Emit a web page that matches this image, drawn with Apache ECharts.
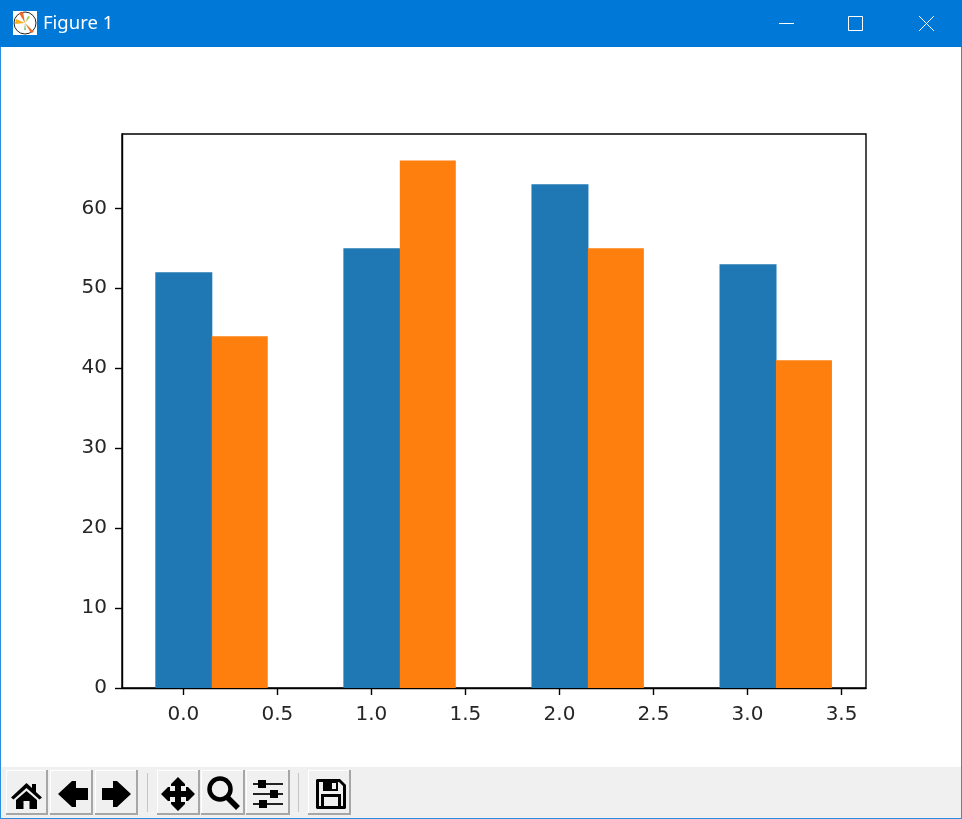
<!DOCTYPE html>
<html>
	<head>
		<title>Figure 1</title>
		<meta charset="utf-8">
		<style>
html, body {
	width: 100%;
	height: 100%;
	margin: 0;
	background: #fff;
}

#box1 {
	width: 962px;
	height: 819px;
}
		</style>
	</head>
	<body>
		<div id="box1"></div>
	</body>
	<script src="https://cdn.jsdelivr.net/npm/echarts@6/dist/echarts.min.js"></script>
	<script type="text/javascript">
var bluePositions = [0, 1, 2, 3];
var blueValues = [52, 55, 63, 53];
var orangePositions = [0.3, 1.3, 2.3, 3.3];
var orangeValues = [44, 66, 55, 41];
var xTicks = [0, 0.5, 1, 1.5, 2, 2.5, 3, 3.5];
var yTicks = [0, 10, 20, 30, 40, 50, 60];
var windowTitle = 'Figure 1';

var myChart = echarts.init(document.getElementById('box1'), null, { renderer: 'canvas' });

function pairs(xs, ys) {
	return xs.map(function (x, i) {
		return [x, ys[i]];
	});
}

var blue = '#0078d7';
var tickFont = '"DejaVu Sans"';
var ink = '#262626';

// window frame, title bar and toolbar drawn around the plot
var chrome = [];

function rect(x, y, w, h, fill) {
	chrome.push({ type: 'rect', silent: true, shape: { x: x, y: y, width: w, height: h }, style: { fill: fill } });
}

function line(x1, y1, x2, y2, color, width) {
	chrome.push({
		type: 'line', silent: true,
		shape: { x1: x1, y1: y1, x2: x2, y2: y2 },
		style: { stroke: color, lineWidth: width || 1 }
	});
}

function icon(x, y, points, fill) {
	chrome.push({
		type: 'polygon', silent: true, x: x, y: y,
		shape: { points: points },
		style: { fill: fill || '#000' }
	});
}

function button(x, w) {
	rect(x, 770, w, 44, '#f0f0f0');
	line(x, 770.5, x + w, 770.5, '#ffffff', 1);
	line(x + 0.5, 770, x + 0.5, 814, '#ffffff', 1);
	line(x + w - 1, 770, x + w - 1, 815, '#a6a6a6', 2);
	line(x, 814, x + w, 814, '#a6a6a6', 2);
}

rect(0, 0, 962, 47, blue);
rect(0, 47, 1, 772, '#2a8fe0');
rect(961, 47, 1, 772, '#2a8fe0');
rect(1, 767, 960, 51, '#f0f0f0');
rect(0, 818, 962, 1, '#2a8fe0');

// title bar logo
rect(13, 11, 24, 24, '#ffffff');
chrome.push({ type: 'circle', silent: true, shape: { cx: 25, cy: 23, r: 11 }, style: { fill: '#fff', stroke: '#222', lineWidth: 1 } });
icon(0, 0, [[25, 23], [19, 13], [23, 12]], '#f26b21');
icon(0, 0, [[25, 23], [34, 32], [31, 33]], '#f26b21');
icon(0, 0, [[25, 23], [15, 24], [16, 19]], '#f5b01e');
icon(0, 0, [[25, 23], [28, 16], [30, 17]], '#9ccb4a');
icon(0, 0, [[25, 23], [26, 30], [24, 30]], '#7ec87a');

chrome.push({
	type: 'text', silent: true, x: 43, y: 14,
	style: { text: windowTitle, fill: '#fff', font: '18.5px "Noto Sans"' }
});

// caption buttons
line(779, 23.5, 794, 23.5, '#fff', 1);
chrome.push({ type: 'rect', silent: true, shape: { x: 848.5, y: 16.5, width: 14, height: 14 }, style: { fill: 'none', stroke: '#fff', lineWidth: 1 } });
line(919, 16, 934, 31, '#fff', 1);
line(934, 16, 919, 31, '#fff', 1);

// toolbar
button(6, 42);
button(50, 43);
button(95, 43);
button(157, 43);
button(201, 44);
button(246, 44);
button(308, 43);
line(147.5, 773, 147.5, 812, '#c4c4c4', 1);
line(298.5, 773, 298.5, 812, '#c4c4c4', 1);

// home
icon(11, 782, [[15.5, 1], [21, 6], [21, 2], [25, 2], [25, 10], [31, 15.5], [28.5, 17.5], [15.5, 6], [2.5, 17.5], [0, 15.5]]);
icon(11, 782, [[5, 18], [15.5, 9], [26, 18], [26, 27], [18.5, 27], [18.5, 19], [12.5, 19], [12.5, 27], [5, 27]]);
// back
icon(58, 780, [[0, 14], [14, 1], [18, 1], [18, 8], [30, 8], [30, 20], [18, 20], [18, 27], [14, 27]]);
// forward
icon(102, 780, [[29, 14], [15, 1], [11, 1], [11, 8], [0, 8], [0, 20], [11, 20], [11, 27], [15, 27]]);
// move
icon(161, 777, [[17, 0], [24, 7], [24, 9], [20, 9], [20, 14], [25, 14], [25, 10], [27, 10], [34, 17], [27, 24], [25, 24], [25, 20], [20, 20], [20, 25], [24, 25], [24, 27], [17, 34], [10, 27], [10, 25], [14, 25], [14, 20], [9, 20], [9, 24], [7, 24], [0, 17], [7, 10], [9, 10], [9, 14], [14, 14], [14, 9], [10, 9], [10, 7]]);
// zoom
chrome.push({ type: 'circle', silent: true, shape: { cx: 220, cy: 789, r: 10.5 }, style: { fill: 'none', stroke: '#000', lineWidth: 4.5 } });
line(227, 797, 238, 808, '#000', 5.5);
// sliders
line(253, 784, 283, 784, '#222', 2);
line(253, 794, 283, 794, '#222', 2);
line(253, 804, 283, 804, '#222', 2);
rect(258, 780, 8, 8, '#000');
rect(270, 790, 8, 8, '#000');
rect(259, 800, 8, 8, '#000');
// save
icon(316, 779, [[1, 0], [24, 0], [30, 6], [30, 29], [29, 30], [1, 30], [0, 29], [0, 1]]);
icon(316, 779, [[3, 3], [23, 3], [27, 7], [27, 27], [3, 27]], '#f0f0f0');
icon(316, 779, [[7, 2], [22, 2], [22, 12], [7, 12]]);
icon(316, 779, [[16, 4], [20, 4], [20, 10], [16, 10]], '#f0f0f0');
icon(316, 779, [[5, 15], [25, 15], [25, 28], [5, 28]]);
icon(316, 779, [[8, 18], [22, 18], [22, 27], [8, 27]], '#f0f0f0');

var option = {
	backgroundColor: '#fff',
	animation: false,
	graphic: { elements: chrome },
	grid: {
		left: 122,
		top: 134,
		width: 744,
		height: 554,
		show: true,
		backgroundColor: '#fff',
		borderColor: '#000',
		borderWidth: 1.4
	},
	xAxis: {
		type: 'value',
		min: -0.326,
		max: 3.63,
		splitLine: { show: false },
		axisLine: { onZero: false, lineStyle: { color: '#000', width: 1.4 } },
		axisTick: { length: 7, customValues: xTicks, lineStyle: { color: '#000', width: 1.4 } },
		axisLabel: {
			customValues: xTicks,
			margin: 17,
			fontFamily: tickFont,
			fontSize: 20,
			color: ink,
			formatter: function (v) { return v.toFixed(1); }
		}
	},
	yAxis: {
		type: 'value',
		min: 0,
		max: 69.3,
		splitLine: { show: false },
		axisLine: { onZero: false, lineStyle: { color: '#000', width: 1.4 } },
		axisTick: { length: 7, customValues: yTicks, lineStyle: { color: '#000', width: 1.4 } },
		axisLabel: {
			customValues: yTicks,
			margin: 15,
			padding: [6, 0, 0, 0],
			fontFamily: tickFont,
			fontSize: 20,
			color: ink,
			verticalAlignMinLabel: 'middle'
		}
	},
	series: [
		{
			type: 'bar',
			data: pairs(bluePositions, blueValues),
			barWidth: 57,
			barGap: '-100%',
			itemStyle: { color: '#1f77b4' }
		},
		{
			type: 'bar',
			data: pairs(orangePositions, orangeValues),
			barWidth: 56,
			barGap: '-100%',
			itemStyle: { color: '#ff7f0e' }
		}
	]
};

myChart.setOption(option);
	</script>
</html>
